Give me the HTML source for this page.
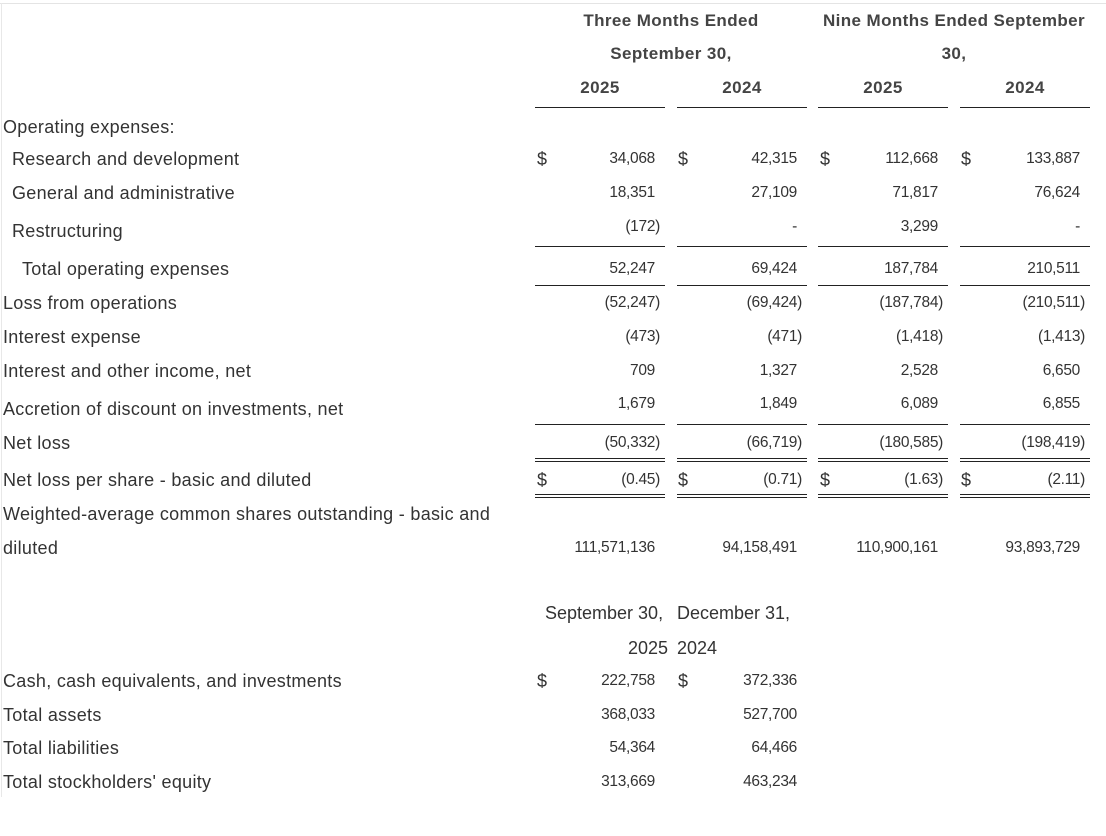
<!DOCTYPE html>
<html><head><meta charset="utf-8"><style>
body{margin:0;width:1106px;height:836px;background:#fff;position:relative;overflow:hidden;font-family:"Liberation Sans",sans-serif;font-size:18px;color:#333;letter-spacing:0.3px}
div{position:absolute;white-space:nowrap;line-height:20px;height:20px}
.b{font-weight:bold;color:#444;font-size:17px;letter-spacing:0.4px}
.r{text-align:right;width:140px;font-size:15.5px;letter-spacing:-0.3px}
.c{text-align:center}
.ln{height:0;border-top:1px solid #222}
.dl{height:2px;border-top:1px solid #222;border-bottom:1px solid #222}
</style></head><body>
<div style="left:0;top:3px;width:1106px;height:0;border-top:1px solid #e4e4e4"></div>
<div style="left:1px;top:3px;width:0;height:794px;border-left:1px solid #e8e8e8"></div>

<div class="b c" style="left:535px;width:272px;top:11px">Three Months Ended</div>
<div class="b c" style="left:535px;width:272px;top:44px">September 30,</div>
<div class="b c" style="left:808px;width:292px;top:11px">Nine Months Ended September</div>
<div class="b c" style="left:818px;width:272px;top:44px">30,</div>
<div class="b c" style="left:535px;width:130px;top:78px">2025</div>
<div class="b c" style="left:677px;width:130px;top:78px">2024</div>
<div class="b c" style="left:818px;width:130px;top:78px">2025</div>
<div class="b c" style="left:960px;width:130px;top:78px">2024</div>

<div class="ln" style="left:535px;width:130px;top:107px"></div>
<div class="ln" style="left:677px;width:130px;top:107px"></div>
<div class="ln" style="left:818px;width:130px;top:107px"></div>
<div class="ln" style="left:960px;width:130px;top:107px"></div>

<div class="ln" style="left:535px;width:130px;top:246px"></div>
<div class="ln" style="left:677px;width:130px;top:246px"></div>
<div class="ln" style="left:818px;width:130px;top:246px"></div>
<div class="ln" style="left:960px;width:130px;top:246px"></div>
<div class="ln" style="left:535px;width:130px;top:285px"></div>
<div class="ln" style="left:677px;width:130px;top:285px"></div>
<div class="ln" style="left:818px;width:130px;top:285px"></div>
<div class="ln" style="left:960px;width:130px;top:285px"></div>
<div class="ln" style="left:535px;width:130px;top:424px"></div>
<div class="ln" style="left:677px;width:130px;top:424px"></div>
<div class="ln" style="left:818px;width:130px;top:424px"></div>
<div class="ln" style="left:960px;width:130px;top:424px"></div>
<div class="dl" style="left:535px;width:130px;top:458px"></div>
<div class="dl" style="left:677px;width:130px;top:458px"></div>
<div class="dl" style="left:818px;width:130px;top:458px"></div>
<div class="dl" style="left:960px;width:130px;top:458px"></div>
<div class="dl" style="left:535px;width:130px;top:494px"></div>
<div class="dl" style="left:677px;width:130px;top:494px"></div>
<div class="dl" style="left:818px;width:130px;top:494px"></div>
<div class="dl" style="left:960px;width:130px;top:494px"></div>

<!-- labels -->
<div style="left:3px;top:117px">Operating expenses:</div>
<div style="left:12px;top:149px">Research and development</div>
<div style="left:12px;top:183px">General and administrative</div>
<div style="left:12px;top:221px">Restructuring</div>
<div style="left:22px;top:259px">Total operating expenses</div>
<div style="left:3px;top:293px">Loss from operations</div>
<div style="left:3px;top:327px">Interest expense</div>
<div style="left:3px;top:361px">Interest and other income, net</div>
<div style="left:3px;top:399px">Accretion of discount on investments, net</div>
<div style="left:3px;top:433px">Net loss</div>
<div style="left:3px;top:470px">Net loss per share - basic and diluted</div>
<div style="left:3px;top:504px">Weighted-average common shares outstanding - basic and</div>
<div style="left:3px;top:538px">diluted</div>

<!-- dollar signs -->
<div style="left:537px;top:149px">$</div><div style="left:678px;top:149px">$</div><div style="left:820px;top:149px">$</div><div style="left:961px;top:149px">$</div>
<div style="left:537px;top:470px">$</div><div style="left:678px;top:470px">$</div><div style="left:820px;top:470px">$</div><div style="left:961px;top:470px">$</div>

<div class="r" style="left:515px;top:149px">34,068</div>
<div class="r" style="left:657px;top:149px">42,315</div>
<div class="r" style="left:798px;top:149px">112,668</div>
<div class="r" style="left:940px;top:149px">133,887</div>

<div class="r" style="left:515px;top:183px">18,351</div>
<div class="r" style="left:657px;top:183px">27,109</div>
<div class="r" style="left:798px;top:183px">71,817</div>
<div class="r" style="left:940px;top:183px">76,624</div>

<div class="r" style="left:520px;top:217px">(172)</div>
<div class="r" style="left:657px;top:217px">-</div>
<div class="r" style="left:798px;top:217px">3,299</div>
<div class="r" style="left:940px;top:217px">-</div>

<div class="r" style="left:515px;top:259px">52,247</div>
<div class="r" style="left:657px;top:259px">69,424</div>
<div class="r" style="left:798px;top:259px">187,784</div>
<div class="r" style="left:940px;top:259px">210,511</div>

<div class="r" style="left:520px;top:293px">(52,247)</div>
<div class="r" style="left:662px;top:293px">(69,424)</div>
<div class="r" style="left:803px;top:293px">(187,784)</div>
<div class="r" style="left:945px;top:293px">(210,511)</div>

<div class="r" style="left:520px;top:327px">(473)</div>
<div class="r" style="left:662px;top:327px">(471)</div>
<div class="r" style="left:803px;top:327px">(1,418)</div>
<div class="r" style="left:945px;top:327px">(1,413)</div>

<div class="r" style="left:515px;top:361px">709</div>
<div class="r" style="left:657px;top:361px">1,327</div>
<div class="r" style="left:798px;top:361px">2,528</div>
<div class="r" style="left:940px;top:361px">6,650</div>

<div class="r" style="left:515px;top:394px">1,679</div>
<div class="r" style="left:657px;top:394px">1,849</div>
<div class="r" style="left:798px;top:394px">6,089</div>
<div class="r" style="left:940px;top:394px">6,855</div>

<div class="r" style="left:520px;top:433px">(50,332)</div>
<div class="r" style="left:662px;top:433px">(66,719)</div>
<div class="r" style="left:803px;top:433px">(180,585)</div>
<div class="r" style="left:945px;top:433px">(198,419)</div>

<div class="r" style="left:520px;top:470px">(0.45)</div>
<div class="r" style="left:662px;top:470px">(0.71)</div>
<div class="r" style="left:803px;top:470px">(1.63)</div>
<div class="r" style="left:945px;top:470px">(2.11)</div>

<div class="r" style="left:515px;top:538px">111,571,136</div>
<div class="r" style="left:657px;top:538px">94,158,491</div>
<div class="r" style="left:798px;top:538px">110,900,161</div>
<div class="r" style="left:940px;top:538px">93,893,729</div>

<!-- balance sheet -->
<div style="left:545px;top:603px;letter-spacing:0">September 30,</div>
<div style="left:677px;top:603px;letter-spacing:0">December 31,</div>
<div style="left:628px;top:638px;letter-spacing:0">2025</div>
<div style="left:677px;top:638px;letter-spacing:0">2024</div>

<div style="left:3px;top:671px">Cash, cash equivalents, and investments</div>
<div style="left:3px;top:705px">Total assets</div>
<div style="left:3px;top:738px">Total liabilities</div>
<div style="left:3px;top:772px">Total stockholders' equity</div>

<div style="left:537px;top:671px">$</div><div style="left:678px;top:671px">$</div>
<div class="r" style="left:515px;top:671px">222,758</div>
<div class="r" style="left:657px;top:671px">372,336</div>
<div class="r" style="left:515px;top:705px">368,033</div>
<div class="r" style="left:657px;top:705px">527,700</div>
<div class="r" style="left:515px;top:738px">54,364</div>
<div class="r" style="left:657px;top:738px">64,466</div>
<div class="r" style="left:515px;top:772px">313,669</div>
<div class="r" style="left:657px;top:772px">463,234</div>
</body></html>
